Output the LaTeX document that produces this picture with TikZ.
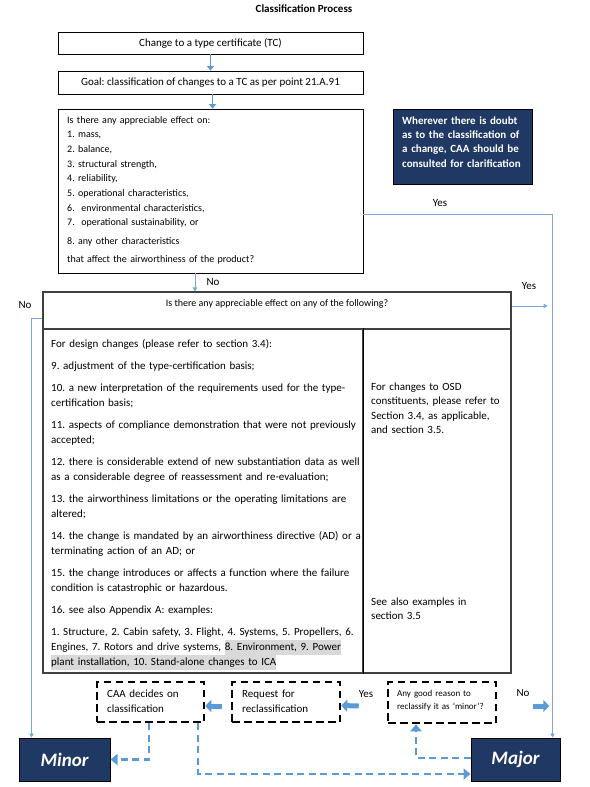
\documentclass[tikz,border=0pt]{standalone}
\usepackage{fontspec}
\setmainfont{Carlito}
\usetikzlibrary{arrows.meta}
\definecolor{navy}{HTML}{1F3864}
\definecolor{flowblue}{HTML}{5B9BD5}
\definecolor{thinblue}{HTML}{7BA6DB}
\definecolor{hlgray}{HTML}{D9D9D9}
\definecolor{tablegray}{HTML}{404040}
\frenchspacing
\newcommand{\hlt}[1]{{\setlength{\fboxsep}{0pt}\colorbox{hlgray}{\strut #1}}}
\newcommand{\jline}[1]{\makebox[119pt][s]{#1}}
\tikzset{
  plainbox/.style={draw=black, line width=0.8pt, inner sep=0pt, font=\fontsize{11}{14}\selectfont},
  tablebox/.style={draw=tablegray, line width=1.2pt, inner sep=0pt},
  dashbox/.style={draw=black, line width=2.5pt, dash pattern=on 7.5pt off 4.5pt, inner sep=0pt},
  classbox/.style={draw=black, fill=navy, line width=1pt, text=white, inner sep=0pt, font=\fontsize{19}{22}\selectfont\bfseries\itshape},
  txt/.style={anchor=base west, inner sep=0pt, align=left, text width=#1},
  txt/.default=320pt,
  lbl/.style={inner sep=0pt, font=\fontsize{11}{13}\selectfont},
  flowarrow/.style={flowblue, line width=1.8pt, -{Triangle[length=4.5pt,width=7pt]}},
  thinarrow/.style={thinblue, line width=0.9pt, -{Triangle[length=4pt,width=4.5pt]}},
  blockarrow/.style={flowblue, line width=5pt, -{Triangle[length=6pt,width=12pt]}},
  dasharrow/.style={flowblue, line width=2.2pt, dash pattern=on 7pt off 4.5pt, -{Triangle[length=7pt,width=11pt]}}
}

\begin{document}
\frenchspacing
\begin{tikzpicture}[x=1pt,y=-1pt]
		\useasboundingbox (0,0) rectangle (589,787);
		
		%%%%% TOP %%%%%
		\node[font=\fontsize{11}{13}\selectfont\bfseries] (title) at (304,9) {Classification Process};
		
		\node[plainbox, minimum width=305pt, minimum height=22pt] (tc) at (210.5,43) {Change to a type certificate (TC)};
		\node[plainbox, minimum width=305pt, minimum height=23pt] (goal) at (210.5,82.5) {Goal: classification of changes to a TC as per point 21.A.91};
		\node[plainbox, minimum width=305pt, minimum height=164pt] (q1) at (210.5,191) {};
		\node[txt, font=\fontsize{10}{14.7}\selectfont] (q1txt) at (67,123) {Is there any appreciable effect on:\\
			1. mass,\\
			2. balance,\\
			3. structural strength,\\
			4. reliability,\\
			5. operational characteristics,\\
			6.\ \ environmental characteristics,\\
			7.\ \ operational sustainability, or\\[4pt]
			8. any other characteristics\\[3.5pt]
			that affect the airworthiness of the product?};
		
		\node[draw=black, fill=navy, line width=0.8pt, minimum width=139pt, minimum height=75pt] (note) at (462.5,146.5) {};
		\node[txt=119pt, text=white, font=\fontsize{11}{14.4}\selectfont\bfseries] (notetxt) at (402,124) {\jline{Wherever there is doubt}\\
			\jline{as to the classification of}\\
			\jline{a change, CAA should be}\\
			\jline{consulted for clarification}};
		
		\draw[flowarrow] (tc.south) -- (goal.north);
		\draw[flowarrow] ([xshift=2pt]goal.south) -- ([xshift=2pt]goal.south |- q1.north);
		
		%%%%% TABLE %%%%%
		\node[tablebox, minimum width=468pt, minimum height=37pt] (q2) at (277,310.5) {};
		\node[font=\fontsize{10}{12}\selectfont, inner sep=0pt] (q2txt) at (277,304) {Is there any appreciable effect on any of the following?};
		\node[tablebox, minimum width=320pt, minimum height=344pt] (dleft) at (203,501) {};
		\node[tablebox, minimum width=148pt, minimum height=344pt] (dright) at (437,501) {};
		\draw[black, line width=1.6pt] (dleft.north east) -- (dleft.south east);
		
		\node[txt, font=\fontsize{11}{15}\selectfont] (dtxt) at (51,347) {For design changes (please refer to section 3.4):\\[7pt]
			9. adjustment of the type-certification basis;\\[7pt]
			10. a new interpretation of the requirements used for the type-\\
			certification basis;\\[7pt]
			11. aspects of compliance demonstration that were not previously\\
			accepted;\\[7pt]
			12. there is considerable extend of new substantiation data as well\\
			as a considerable degree of reassessment and re-evaluation;\\[7pt]
			13. the airworthiness limitations or the operating limitations are\\
			altered;\\[7pt]
			14. the change is mandated by an airworthiness directive (AD) or a\\
			terminating action of an AD; or\\[7pt]
			15. the change introduces or affects a function where the failure\\
			condition is catastrophic or hazardous.\\[7pt]
			16. see also Appendix A: examples:\\[7pt]
			1. Structure, 2. Cabin safety, 3. Flight, 4. Systems, 5. Propellers, 6.\\
			Engines, 7. Rotors and drive systems, \hlt{8. Environment, 9. Power}\\
			\hlt{plant installation, 10. Stand-alone changes to ICA}};
		
		\node[txt=135pt, font=\fontsize{11}{14.5}\selectfont] (osd) at (371,390) {For changes to OSD\\
			constituents, please refer to\\
			Section 3.4, as applicable,\\
			and section 3.5.};
		\node[txt=135pt, font=\fontsize{11}{14.5}\selectfont] (seealso) at (371,605) {See also examples in\\
			section 3.5};
		
		%%%%% BOTTOM %%%%%
		\node[dashbox, minimum width=107pt, minimum height=40pt] (caa) at (150.5,702) {};
		\node[txt=95pt, font=\fontsize{11}{15}\selectfont] (caatxt) at (107,697.5) {CAA decides on\\classification};
		\node[dashbox, minimum width=108pt, minimum height=40pt] (req) at (286,702) {};
		\node[txt=95pt, font=\fontsize{11}{15}\selectfont] (reqtxt) at (242,697.5) {Request for\\reclassification};
		\node[dashbox, minimum width=108pt, minimum height=41pt] (any) at (442,702.5) {};
		\node[txt=95pt, font=\fontsize{9}{13}\selectfont] (anytxt) at (397,696) {Any good reason to\\reclassify it as ‘minor’?};
		
		\node[classbox, minimum width=91pt, minimum height=43pt] (minor) at (64.5,759.5) {Minor};
		\node[classbox, minimum width=89pt, minimum height=43pt] (major) at (515.5,759.5) {Major};
		
		%%%%% LABELS %%%%%
		\node[lbl] (yes1) at (440,203) {Yes};
		\node[lbl] (no1) at (213,282) {No};
		\node[lbl] (yes2) at (529,286) {Yes};
		\node[lbl] (no2) at (25,305) {No};
		\node[lbl] (yes3) at (366,694) {Yes};
		\node[lbl] (no3) at (523,693) {No};
		
		%%%%% CONNECTORS %%%%%
		\draw[thinarrow] ([xshift=-15.5pt]q1.south) -- ([xshift=-15.5pt]q1.south |- q2.north);
		\draw[thinarrow] ([yshift=-23pt]q1.east) -| ([xshift=37pt]major.north);
		\draw[thinarrow] ([yshift=4.5pt]q2.east) -- ++(36,0);
		\draw[thinarrow] ([yshift=-7.5pt]q2.west) -| ([xshift=-33pt]minor.north);
		
		\draw[blockarrow] ([xshift=-28pt,yshift=-3.5pt]any.west) -- ([yshift=-3.5pt]req.east);
		\draw[blockarrow] ([xshift=-9pt,yshift=-4pt]req.west) -- ([yshift=-4pt]caa.east);
		\draw[blockarrow] ([xshift=36pt,yshift=-3.5pt]any.east) -- ++(16,0);
		
		\draw[dasharrow] ([xshift=-1.5pt]caa.south) |- (minor.east);
		\draw[dasharrow] ([xshift=-7pt]caa.south east) |- ([yshift=-14.5pt]major.west);
		\draw[dasharrow] ([yshift=1.5pt]major.west) -| ([xshift=-26pt]any.south);
		
	\end{tikzpicture}
\end{document}
